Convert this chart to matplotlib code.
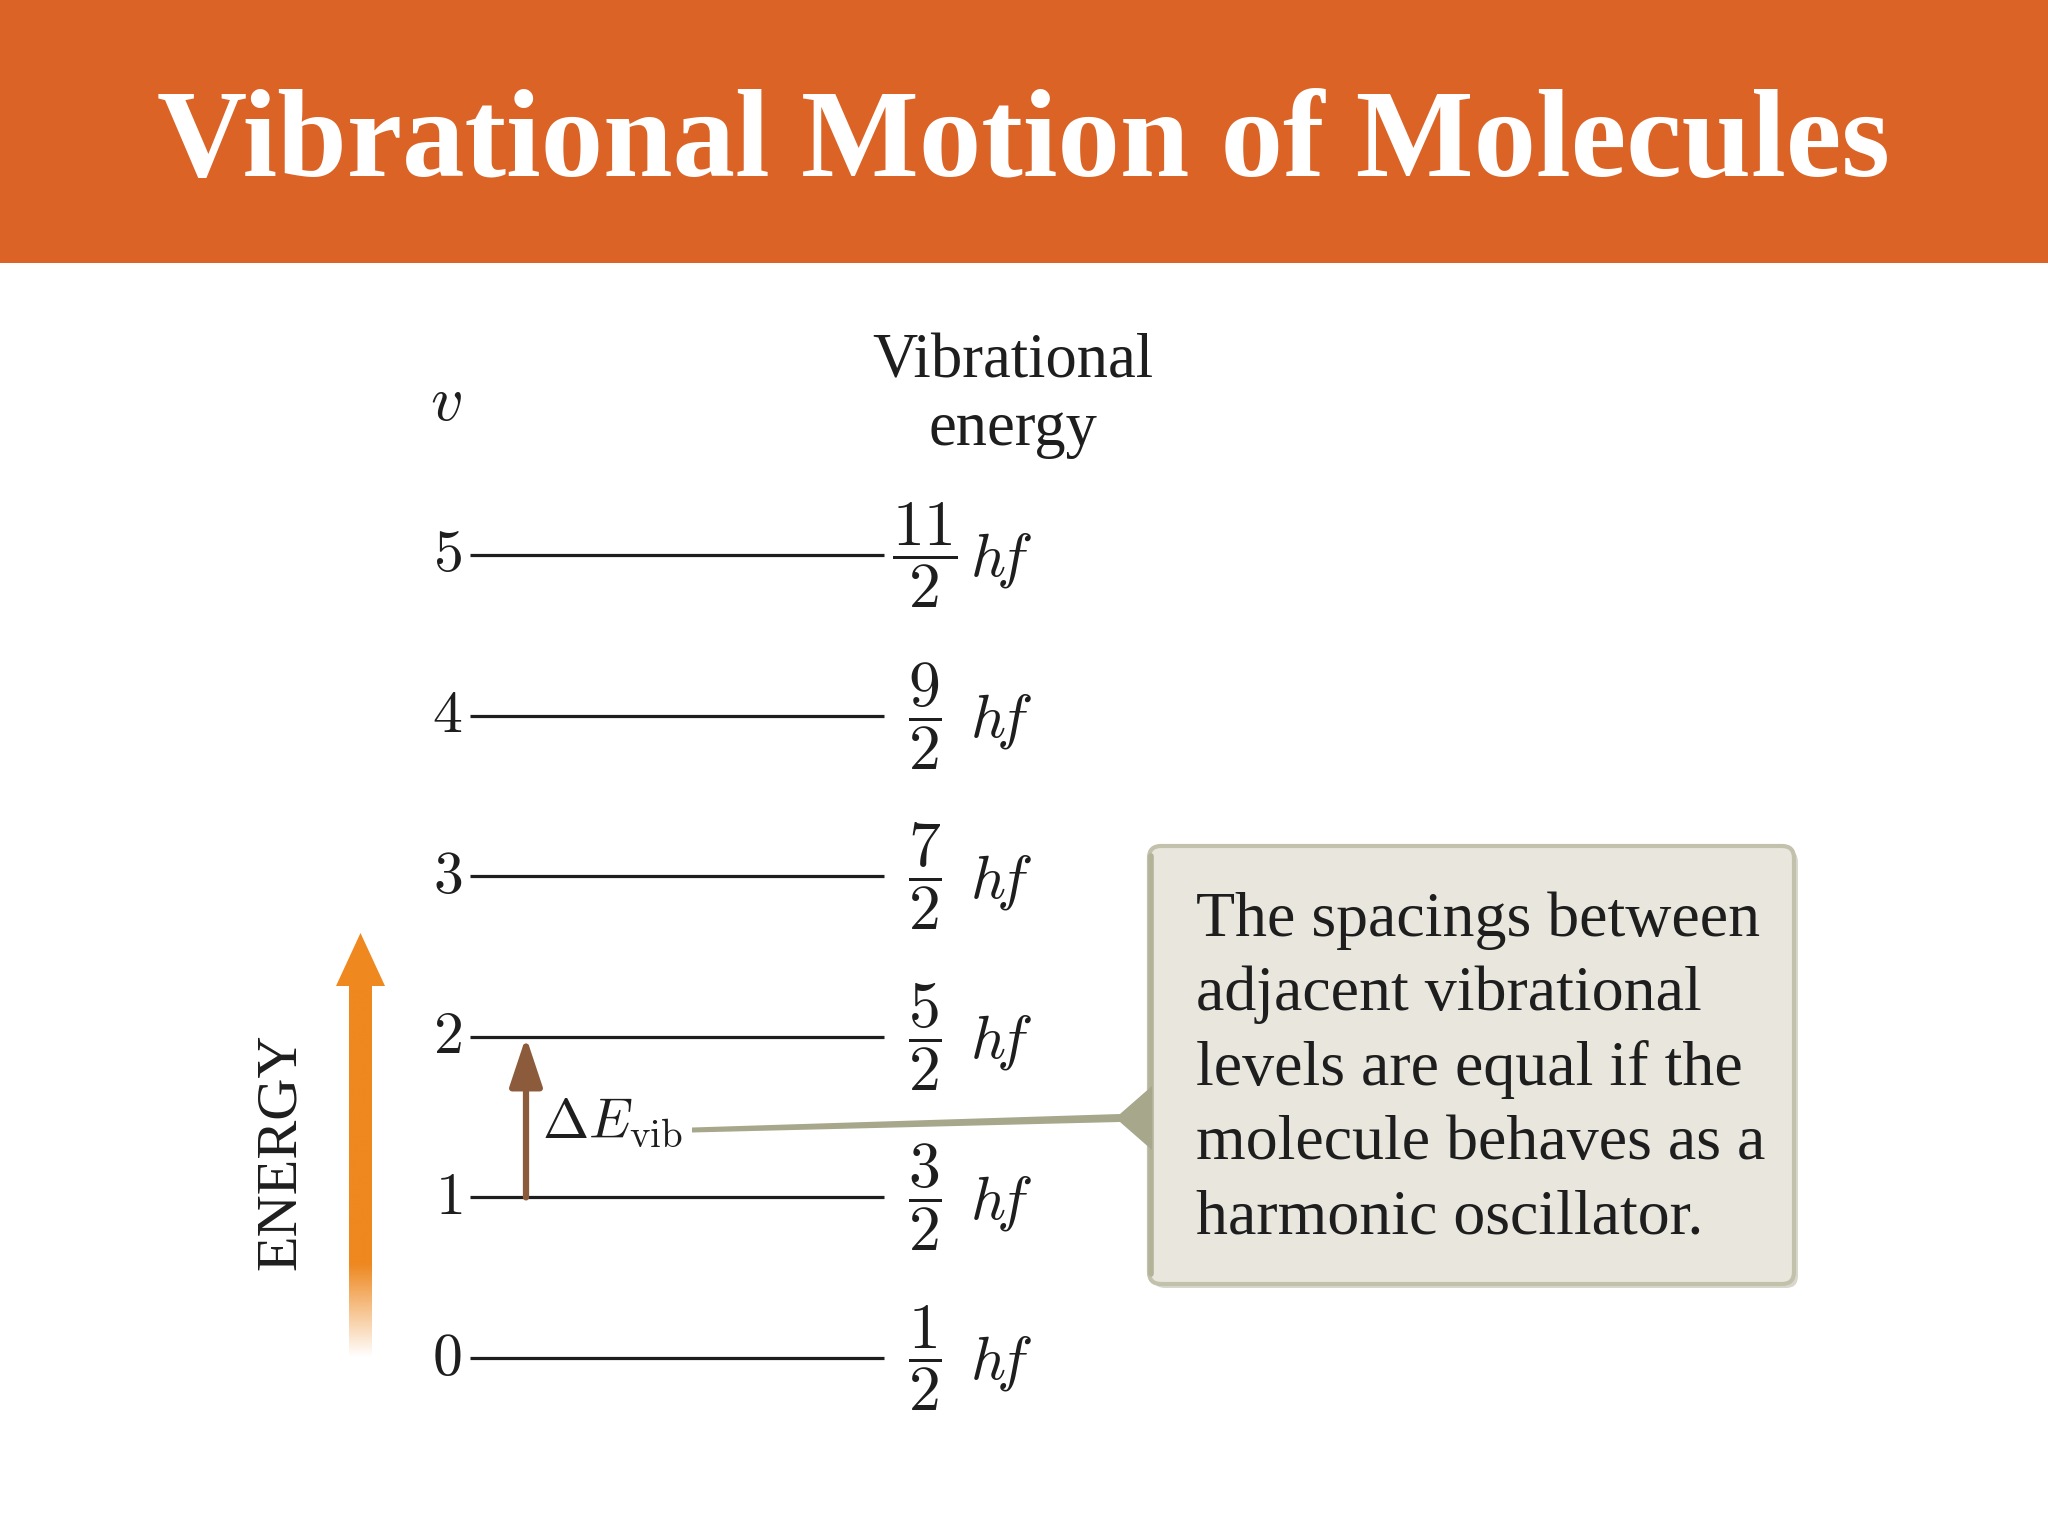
import matplotlib
matplotlib.use("Agg")
import matplotlib.pyplot as plt
import numpy as np
from matplotlib.patches import Rectangle, Polygon, FancyBboxPatch

# --- chart content ---
title = "Vibrational Motion of Molecules"
levels = [0, 1, 2, 3, 4, 5]                # quantum number v
numerators = [1, 3, 5, 7, 9, 11]           # E_v = (n/2) hf
transition = (1, 2)                        # Delta E_vib arrow
header_lines = ["Vibrational", "energy"]
box_lines = ["The spacings between",
             "adjacent vibrational",
             "levels are equal if the",
             "molecule behaves as a",
             "harmonic oscillator."]

W, H = 2048, 1536
ORANGE_BAND = "#DC6326"
ARROW_ORANGE = "#EE881F"
BROWN = "#8B5B3B"
OLIVE = "#A6A78B"
INK = "#1E1E1E"
SERIF = ["Liberation Serif", "DejaVu Serif"]

plt.rcParams["mathtext.fontset"] = "cm"

fig = plt.figure(figsize=(W / 100, H / 100), dpi=100)

# layout axes in pixel units (y downwards)
bg = fig.add_axes([0, 0, 1, 1])
bg.set_xlim(0, W)
bg.set_ylim(H, 0)
bg.axis("off")

# diagram axes: x in pixels, y in vibrational quantum number
ax = fig.add_axes([0, 0, 1, 1])
ax.patch.set_alpha(0)
y0, dy = 1358, 160.6        # pixel of v=0, pixels per level
ax.set_xlim(0, W)
ax.set_ylim((y0 - H) / dy, y0 / dy)
ax.axis("off")


def lv(ypix):
    return (y0 - ypix) / dy


# header band and title
bg.add_patch(Rectangle((0, 0), W, 263, color=ORANGE_BAND, lw=0))
t = bg.text(1023, 176, title, color="white", fontsize=90, fontweight="bold",
            family=SERIF, ha="center", va="baseline")
fig.canvas.draw()
w = t.get_window_extent().width
t.set_fontsize(90 * 1733 / w)

# energy levels
ax.hlines(levels, 470, 884, color=INK, lw=2.3)
for v, n in zip(levels, numerators):
    ax.text(462, v, "$%d$" % v, fontsize=43, ha="right", va="center", color=INK)
    ax.text(925, v, r"$\dfrac{%d}{2}$" % n, fontsize=46, ha="center",
            va="center", color=INK)
    ax.text(970, v - 0.13, r"$h\!f$", fontsize=44, ha="left", va="baseline",
            color=INK)

ax.text(446, lv(402), "$v$", fontsize=46, ha="center", va="center", color=INK)
bg.text(1013, 378, header_lines[0], fontsize=45, family=SERIF, ha="center",
        va="baseline", color=INK)
bg.text(1013, 445, header_lines[1], fontsize=45, family=SERIF, ha="center",
        va="baseline", color=INK)

# Delta E arrow between levels 1 and 2
ax.annotate("", xy=(526, transition[1]), xytext=(526, transition[0]),
            arrowprops=dict(arrowstyle="-|>,head_length=30,head_width=10",
                            mutation_scale=1, lw=4.5, color=BROWN,
                            shrinkA=0, shrinkB=0))
ax.text(542, lv(1138), r"$\Delta E_{\rm vib}$", fontsize=40, ha="left",
        va="baseline", color=INK)

# big ENERGY arrow with fading tail
n = 200
rgba = np.zeros((n, 1, 4))
rgba[..., :3] = matplotlib.colors.to_rgb(ARROW_ORANGE)
rgba[:, 0, 3] = np.clip(np.linspace(1, 0, n) / 0.25, 0, 1)
bg.imshow(rgba, extent=(348.5, 371.5, 1358, 984), origin="upper",
          aspect="auto", interpolation="bilinear", zorder=2)
bg.add_patch(Polygon([(336, 986), (385, 986), (360.5, 933)],
                     closed=True, color=ARROW_ORANGE, lw=0, zorder=2))
bg.text(281, 1152, "ENERGY", fontsize=42, family=SERIF, rotation=90,
        ha="center", va="center", color=INK)

# callout box
bg.add_patch(FancyBboxPatch((1153, 850), 645, 438,
                            boxstyle="round,pad=0,rounding_size=12",
                            fc="#D9D7CC", ec="none", zorder=1))
bg.add_patch(FancyBboxPatch((1149, 846), 645, 438,
                            boxstyle="round,pad=0,rounding_size=12",
                            fc="#E9E6DD", ec="#C2C1AC", lw=3, zorder=2))
bg.plot([1150.5, 1150.5], [856, 1274], color="#B3B399", lw=4, zorder=3,
        solid_capstyle="round")
bg.add_patch(Polygon([(692, 1127.5), (1120, 1114), (1152, 1086),
                      (1152, 1150), (1120, 1122), (692, 1132.5)],
                     closed=True, color=OLIVE, lw=0, zorder=3))
for i, line in enumerate(box_lines):
    bg.text(1196, 936 + 74.5 * i, line, fontsize=46, family=SERIF,
            ha="left", va="baseline", color=INK, zorder=4)

fig.savefig("out.png", dpi=100, facecolor="white")
